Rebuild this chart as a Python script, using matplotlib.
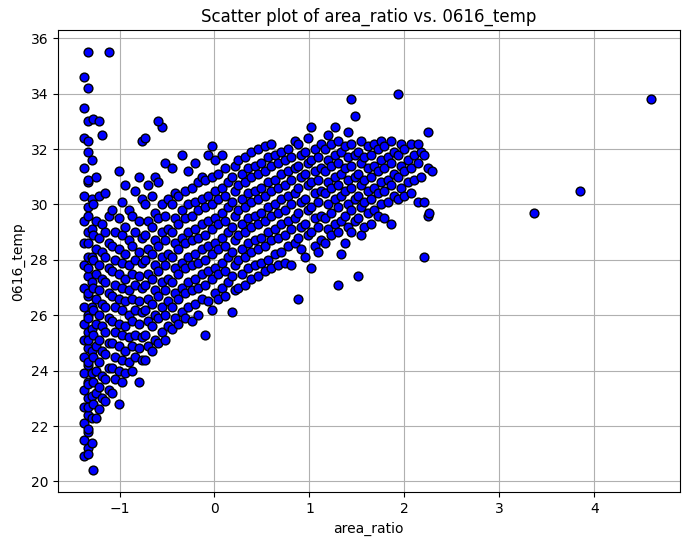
import matplotlib
matplotlib.use("Agg")
import matplotlib.pyplot as plt

columns = {
    -1.36: [20.9,21.2,21.5,21.8,22.1,22.4,22.7,23.0,23.3,23.6,23.9,24.2,24.5,24.8,25.1,25.4,25.7,26.0,26.3,26.7,27.0,27.4,27.8,28.1,28.6,29.0,29.4,29.9,30.3,30.8,31.3,31.9,32.4,33.0,33.5,34.2,34.6,35.5],
    -1.32: [21.0,21.4,21.9,22.3,22.7,23.1,23.5,23.9,24.3,24.7,25.1,25.5,25.9,26.3,26.8,27.2,27.7,28.1,28.6,29.1,29.6,30.2,30.9,31.6,32.3],
    -1.27: [20.4,22.3,22.8,23.2,23.6,24.0,24.5,24.9,25.3,25.7,26.2,26.6,27.0,27.5,28.0,28.4,28.9,29.4,30.0,31.0,33.1],
    -1.21: [22.6,23.0,23.4,23.8,24.3,24.7,25.1,25.6,26.0,26.4,26.9,27.3,27.8,28.3,28.8,29.3,30.3,32.5,33.0],
    -1.14: [22.9,23.3,23.7,24.1,24.6,25.0,25.4,25.9,26.3,26.8,27.2,27.7,28.1,28.6,29.0,29.6,30.4,35.5],
    -1.07: [23.2,23.7,24.1,24.5,25.0,25.4,25.8,26.3,26.7,27.1,27.6,28.0,28.5,29.0,29.8],
    -1.00: [22.8,23.6,24.0,24.4,24.9,25.3,25.7,26.2,26.6,27.0,27.5,27.9,28.4,28.9,29.5,30.1,31.2],
    -0.93: [23.9,24.3,24.7,25.2,25.6,26.0,26.5,26.9,27.3,27.8,28.2,28.7,29.2,29.8,30.7],
    -0.86: [24.0,24.5,24.9,25.3,25.8,26.2,26.6,27.1,27.5,28.0,28.5,29.0,29.6,30.5],
    -0.79: [23.6,24.4,24.8,25.2,25.7,26.1,26.5,27.0,27.4,27.9,28.3,28.8,29.4,30.2,31.0,32.3],
    -0.72: [24.4,24.9,25.3,25.8,26.2,26.6,27.1,27.5,28.0,28.4,28.9,29.4,30.0,30.7,32.4],
    -0.65: [24.7,25.1,25.6,26.0,26.4,26.9,27.3,27.8,28.2,28.7,29.2,29.7,30.3,31.0],
    -0.58: [25.0,25.4,25.9,26.3,26.7,27.2,27.6,28.1,28.5,29.0,29.5,30.0,30.8,32.8,33.0],
    -0.51: [25.1,25.6,26.0,26.5,26.9,27.3,27.8,28.2,28.7,29.1,29.6,30.2,31.5],
    -0.44: [25.5,25.9,26.3,26.8,27.2,27.7,28.1,28.6,29.0,29.5,30.0,30.4,31.3],
    -0.37: [25.7,26.1,26.6,27.0,27.5,27.9,28.4,28.8,29.3,29.8,30.3,31.8],
    -0.30: [25.9,26.3,26.8,27.2,27.7,28.1,28.6,29.0,29.5,30.0,30.5,31.2],
    -0.23: [25.8,26.4,26.9,27.3,27.8,28.2,28.7,29.1,29.6,30.1,30.6,31.5],
    -0.16: [26.0,26.6,27.0,27.5,27.9,28.4,28.8,29.3,29.8,30.2,30.8,31.0],
    -0.09: [25.3,26.5,27.1,27.6,28.0,28.5,28.9,29.4,29.9,30.3,30.9,31.8],
    -0.02: [26.2,26.8,27.3,27.7,28.2,28.6,29.1,29.5,30.0,30.5,31.0,31.6,32.1],
    0.05: [26.6,27.0,27.5,27.9,28.4,28.8,29.3,29.7,30.2,30.6,31.1,31.8],
    0.12: [26.7,27.2,27.6,28.1,28.5,29.0,29.4,29.9,30.3,30.8,31.3],
    0.19: [26.1,26.9,27.4,27.8,28.3,28.7,29.2,29.6,30.1,30.5,31.0,31.4],
    0.26: [27.0,27.5,28.0,28.4,28.9,29.3,29.8,30.2,30.7,31.1,31.6],
    0.33: [27.1,27.7,28.1,28.6,29.0,29.5,29.9,30.4,30.8,31.3,31.7],
    0.40: [27.3,27.8,28.3,28.7,29.2,29.6,30.1,30.5,31.0,31.4,31.9],
    0.47: [27.4,27.9,28.4,28.8,29.3,29.7,30.2,30.6,31.1,31.5,32.0],
    0.54: [27.6,28.0,28.5,29.0,29.4,29.9,30.3,30.8,31.2,31.7,32.1],
    0.61: [27.7,28.2,28.7,29.1,29.6,30.0,30.5,30.9,31.4,31.8,32.2],
    0.68: [27.8,28.3,28.8,29.3,29.7,30.2,30.6,31.1,31.5,31.9],
    0.75: [27.9,28.5,28.9,29.4,29.8,30.3,30.7,31.2,31.6,32.0],
    0.82: [27.8,28.6,29.1,29.5,30.0,30.4,30.9,31.3,31.7,32.3],
    0.89: [26.6,28.4,28.8,29.2,29.7,30.1,30.6,31.0,31.4,31.8,32.2],
    0.96: [28.1,28.9,29.3,29.8,30.2,30.7,31.1,31.5,31.9,32.4],
    1.03: [27.7,28.5,29.0,29.5,29.9,30.4,30.8,31.2,31.6,32.0,32.8],
    1.10: [28.3,28.7,29.2,29.6,30.1,30.5,30.9,31.3,31.7,32.2],
    1.17: [28.6,29.1,29.5,30.0,30.4,30.8,31.2,31.6,32.0,32.5],
    1.24: [28.9,29.3,29.7,30.2,30.6,31.0,31.4,31.8,32.2,32.8],
    1.31: [27.1,28.2,29.0,29.4,29.9,30.3,30.7,31.1,31.5,31.9,32.3],
    1.38: [28.6,29.2,29.6,30.0,30.5,30.9,31.3,31.7,32.1,32.6],
    1.45: [29.0,29.4,29.8,30.2,30.6,31.0,31.4,31.8,32.2,33.2,33.8],
    1.52: [27.4,28.9,29.5,29.9,30.3,30.7,31.1,31.5,31.9,32.3],
    1.59: [29.2,29.7,30.1,30.5,30.9,31.3,31.7,32.1],
    1.66: [29.3,29.8,30.2,30.6,31.0,31.4,31.8,32.2],
    1.73: [29.6,30.0,30.4,30.8,31.2,31.6,32.0,32.3],
    1.80: [29.5,30.1,30.5,30.9,31.3,31.7,32.1],
    1.87: [29.3,30.3,30.7,31.1,31.5,31.9,32.3],
    1.94: [30.2,30.6,31.0,31.4,31.8,32.2,34.0],
    2.01: [30.3,30.8,31.2,31.6,32.0],
    2.08: [30.4,30.9,31.3,31.8,32.2],
    2.15: [30.1,31.0,31.5,31.9,32.2],
    2.22: [28.1,29.6,30.1,31.3,31.8,32.6],
    2.27: [29.7,31.2],
}
outlier_x = [4.6, 3.85, 3.37]
outlier_y = [33.8, 30.5, 29.7]

xs, ys = [], []
for cx, cys in columns.items():
    for i, y in enumerate(cys):
        xs.append(cx + (0.025 if i % 2 else -0.01))
        ys.append(y)
xs += outlier_x
ys += outlier_y

fig, ax = plt.subplots(figsize=(6.88, 5.46), dpi=100)
fig.subplots_adjust(left=0.084, right=0.988, top=0.945, bottom=0.098)
ax.scatter(xs, ys, s=40, c='blue', edgecolors='black', linewidths=1, zorder=2)
ax.set_title('Scatter plot of area_ratio vs. 0616_temp')
ax.set_xlabel('area_ratio')
ax.set_ylabel('0616_temp')
ax.set_ylim(19.6, 36.3)
ax.set_xlim(-1.65, 4.9)
ax.set_yticks([20, 22, 24, 26, 28, 30, 32, 34, 36])
ax.grid(True)
fig.savefig('out.png')
